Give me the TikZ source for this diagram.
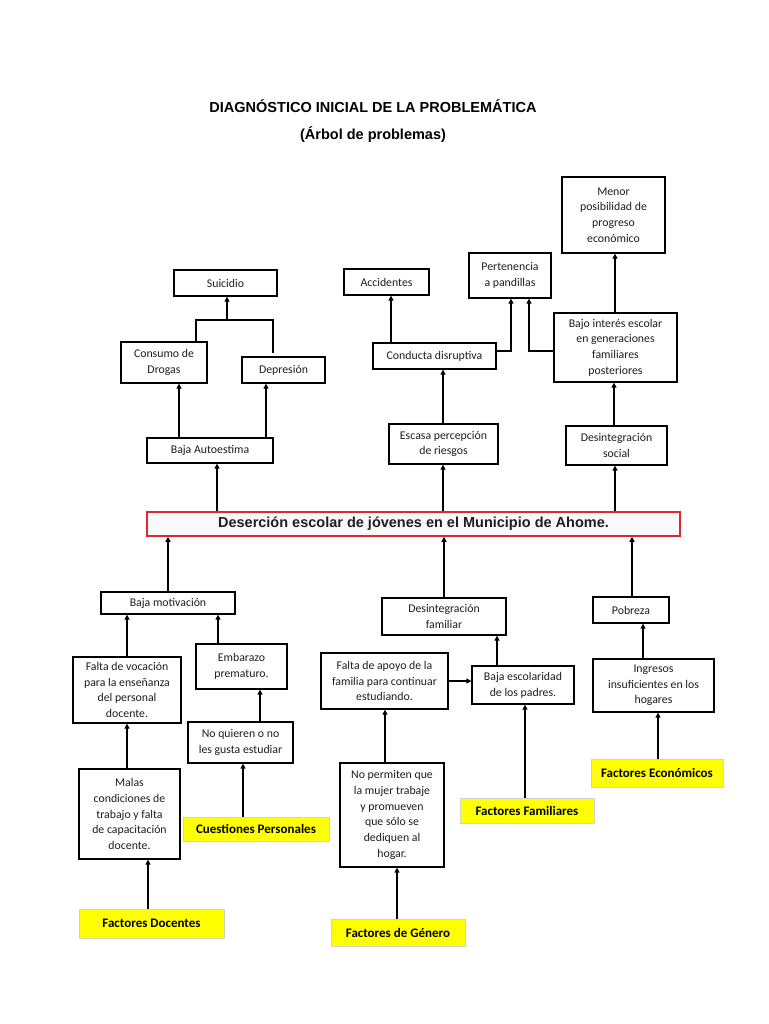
\documentclass[tikz,border=0pt]{standalone}
\usepackage{fontspec}
\setmainfont{Carlito}
\newfontfamily\arialfont{Liberation Sans}
\usetikzlibrary{arrows.meta}
\definecolor{txt}{HTML}{1E1E1E}
\definecolor{barred}{HTML}{E0262E}
\definecolor{barfill}{HTML}{F8F9FB}
\definecolor{ylw}{HTML}{FFFF00}
\definecolor{ylwline}{HTML}{D4D4C4}
\begin{document}
\begin{tikzpicture}[x=1pt,y=-1pt,
  box/.style={draw=black, line width=1.3pt, align=center, inner sep=1pt, text=txt, font=\fontsize{11.8}{15.7}\selectfont},
  lbl/.style={fill=ylw, draw=ylwline, line width=0.8pt, inner sep=1pt, font=\fontsize{13}{15}\selectfont\bfseries, text=black},
  ttl/.style={font=\arialfont\bfseries\fontsize{14.5}{17}\selectfont, text=black},
  arr/.style={line width=1.8pt, -{Triangle[length=5pt,width=5pt]}},
  conn/.style={line width=1.8pt}]
\useasboundingbox (0,0) rectangle (768,1024);
\fill[white] (0,0) rectangle (768,1024);

% titles
\node[ttl] (title) at (373,106) {DIAGNÓSTICO INICIAL DE LA PROBLEMÁTICA};
\node[ttl] (subtitle) at (373,135) {(Árbol de problemas)};

% top part (effects)
\node[box, minimum width=103pt, minimum height=26pt] (suicidio) at (225.5,283) {Suicidio};
\node[box, minimum width=86pt, minimum height=41pt] (consumo) at (164,362.5) {Consumo de\\Drogas};
\node[box, minimum width=83pt, minimum height=26pt] (depresion) at (283.5,370) {Depresión};
\node[box, minimum width=126pt, minimum height=25pt] (bajaauto) at (210,450.5) {Baja Autoestima};
\node[box, minimum width=103pt, minimum height=76pt] (menor) at (613.5,215) {Menor\\posibilidad de\\progreso\\económico};
\node[box, minimum width=85pt, minimum height=26pt] (accidentes) at (386.5,282) {Accidentes};
\node[box, minimum width=82pt, minimum height=45pt] (pertenencia) at (510,275.5) {Pertenencia\\a pandillas};
\node[box, minimum width=123pt, minimum height=26pt] (conducta) at (434.5,356) {Conducta disruptiva};
\node[box, minimum width=123pt, minimum height=69pt] (bajointeres) at (615.5,347.5) {Bajo interés escolar\\en generaciones\\familiares\\posteriores};
\node[box, minimum width=109pt, minimum height=40pt] (escasa) at (443.5,444) {Escasa percepción\\de riesgos};
\node[box, minimum width=101pt, minimum height=39pt] (dessocial) at (616.5,445.5) {Desintegración\\social};

% central problem
\node[draw=barred, fill=barfill, line width=1.5pt, inner sep=1pt, minimum width=533pt, minimum height=24pt,
      font=\arialfont\bfseries\fontsize{14.5}{16}\selectfont, text=txt] (bar) at (413.5,524)
      {Deserción escolar de jóvenes en el Municipio de Ahome.};

% bottom part (causes)
\node[box, minimum width=134pt, minimum height=22pt] (bajamot) at (168,603) {Baja motivación};
\node[box, minimum width=108pt, minimum height=66pt] (faltavoc) at (127,690) {Falta de vocación\\para la enseñanza\\del personal\\docente.};
\node[box, minimum width=91pt, minimum height=45pt] (embarazo) at (241.5,666.5) {Embarazo\\prematuro.};
\node[box, minimum width=105pt, minimum height=41pt] (noquieren) at (240.5,742.5) {No quieren o no\\les gusta estudiar};
\node[box, minimum width=101pt, minimum height=90pt] (malas) at (129.5,814) {Malas\\condiciones de\\trabajo y falta\\de capacitación\\docente.};
\node[lbl, minimum width=146pt, minimum height=24pt] (cuestiones) at (256,829) {Cuestiones Personales};
\node[lbl, minimum width=145pt, minimum height=29pt] (docentes) at (151.5,923.5) {Factores Docentes};

\node[box, minimum width=124pt, minimum height=37pt] (desfam) at (444,616.5) {Desintegración\\familiar};
\node[box, minimum width=76pt, minimum height=26pt] (pobreza) at (631,610) {Pobreza};
\node[box, minimum width=127pt, minimum height=56pt] (faltaapoyo) at (384.5,681) {Falta de apoyo de la\\familia para continuar\\estudiando.};
\node[box, minimum width=102pt, minimum height=38pt] (bajaesc) at (523,685) {Baja escolaridad\\de los padres.};
\node[box, minimum width=121pt, minimum height=53pt] (ingresos) at (653.5,685.5) {Ingresos\\insuficientes en los\\hogares};
\node[box, minimum width=104pt, minimum height=104pt] (nopermiten) at (392,815) {No permiten que\\la mujer trabaje\\y promueven\\que sólo se\\dediquen al\\hogar.};
\node[lbl, minimum width=134pt, minimum height=27pt] (genero) at (398,932.5) {Factores de Género};
\node[lbl, minimum width=134pt, minimum height=25pt] (familiares) at (527,810.5) {Factores Familiares};
\node[lbl, minimum width=132pt, minimum height=28pt] (economicos) at (657,773) {Factores Económicos};

% connectors - top
\draw[arr] (bajaauto.north -| 179,0) -- (consumo.south -| 179,0);
\draw[arr] (bajaauto.north -| 266,0) -- (depresion.south -| 266,0);
\coordinate (jn) at (227,320);
\coordinate (dtop) at (273,353);
\draw[conn] (consumo.north -| 196,0) |- (jn) -| (dtop);
\draw[arr] (jn) -- (suicidio.south -| jn);
\draw[arr] (bar.north -| 217,0) -- (bajaauto.south -| 217,0);
\draw[arr] (conducta.north -| 391,0) -- (accidentes.south -| 391,0);
\draw[arr] (conducta.east |- 0,351) -| (pertenencia.south -| 511,0);
\draw[arr] (bajointeres.west |- 0,351) -| (pertenencia.south -| 529,0);
\draw[arr] (bajointeres.north -| 615,0) -- (menor.south -| 615,0);
\draw[arr] (escasa.north -| 443,0) -- (conducta.south -| 443,0);
\draw[arr] (dessocial.north -| 614,0) -- (bajointeres.south -| 614,0);
\draw[arr] (bar.north -| 443,0) -- (escasa.south -| 443,0);
\draw[arr] (bar.north -| 615,0) -- (dessocial.south -| 615,0);

% connectors - bottom
\draw[arr] (bajamot.north -| 168,0) -- (bar.south -| 168,0);
\draw[arr] (faltavoc.north -| 127,0) -- (bajamot.south -| 127,0);
\draw[arr] (embarazo.north -| 218,0) -- (bajamot.south -| 218,0);
\draw[arr] (noquieren.north -| 260,0) -- (embarazo.south -| 260,0);
\draw[arr] (malas.north -| 127,0) -- (faltavoc.south -| 127,0);
\draw[arr] (cuestiones.north -| 243,0) -- (noquieren.south -| 243,0);
\draw[arr] (docentes.north -| 148,0) -- (malas.south -| 148,0);
\draw[arr] (desfam.north -| 444,0) -- (bar.south -| 444,0);
\draw[arr] (pobreza.north -| 632,0) -- (bar.south -| 632,0);
\draw[arr] (faltaapoyo.east |- 0,681) -- (bajaesc.west |- 0,681);
\draw[arr] (bajaesc.north -| 497,0) -- (desfam.south -| 497,0);
\draw[arr] (ingresos.north -| 643,0) -- (pobreza.south -| 643,0);
\draw[arr] (nopermiten.north -| 385,0) -- (faltaapoyo.south -| 385,0);
\draw[arr] (genero.north -| 397,0) -- (nopermiten.south -| 397,0);
\draw[arr] (familiares.north -| 525,0) -- (bajaesc.south -| 525,0);
\draw[arr] (economicos.north -| 658,0) -- (ingresos.south -| 658,0);
\end{tikzpicture}
\end{document}
